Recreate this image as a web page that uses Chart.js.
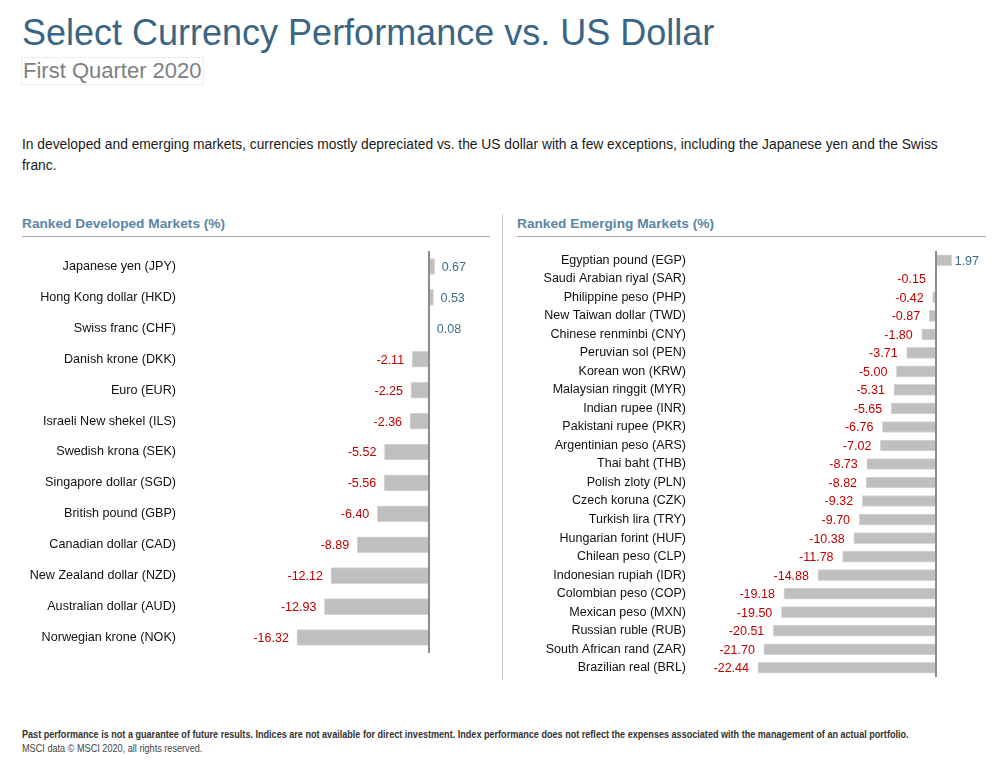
<!DOCTYPE html>
<html>
<head>
<meta charset="utf-8">
<script src="https://cdn.jsdelivr.net/npm/chart.js@4"></script>
<style>
  body { margin: 0; width: 1000px; height: 760px; background: #fff; font-family: "Liberation Sans", Arial, sans-serif; position: relative; overflow: hidden; }
  .abs { position: absolute; }
  #title { left: 22px; top: 12px; font-size: 36px; color: #3b6585; white-space: nowrap; }
  #subtitle { left: 21px; top: 57px; font-size: 22px; color: #808080; border: 1px solid #ececec; padding: 0 1px; line-height: 26px; }
  #desc { left: 22px; top: 134px; width: 960px; font-size: 13.8px; line-height: 21px; color: #1a1a1a; }
  .head { font-size: 13.7px; font-weight: bold; color: #5a86a5; top: 216px; }
  .rule { height: 1px; background: #a6a6a6; top: 236px; }
  #divider { left: 502px; top: 214px; width: 1px; height: 466px; background: #c8c8c8; }
  .foot { left: 22px; white-space: nowrap; transform-origin: left top; }
  #foot1 { top: 728px; font-size: 11px; font-weight: bold; color: #333; transform: scaleX(0.825); }
  #foot2 { top: 742px; font-size: 10.5px; color: #444; transform: scaleX(0.87); }
</style>
</head>
<body>
<div id="title" class="abs">Select Currency Performance vs. US Dollar</div>
<div id="subtitle" class="abs">First Quarter 2020</div>
<div id="desc" class="abs">In developed and emerging markets, currencies mostly depreciated vs. the US dollar with a few exceptions, including the Japanese yen and the Swiss<br>franc.</div>

<div class="abs head" style="left:22px">Ranked Developed Markets (%)</div>
<div class="abs rule" style="left:22px; width:468px"></div>
<div class="abs head" style="left:517px">Ranked Emerging Markets (%)</div>
<div class="abs rule" style="left:517px; width:469px"></div>
<div id="divider" class="abs"></div>

<div class="abs" style="left:0; top:251px; width:490px; height:402px"><canvas id="devChart"></canvas></div>
<div class="abs" style="left:500px; top:251px; width:490px; height:426px"><canvas id="emChart"></canvas></div>

<div id="foot1" class="abs foot">Past performance is not a guarantee of future results. Indices are not available for direct investment. Index performance does not reflect the expenses associated with the management of an actual portfolio.</div>
<div id="foot2" class="abs foot">MSCI data © MSCI 2020, all rights reserved.</div>

<script>
// --- Data ---
const devLabels = [
    'Japanese yen (JPY)', 'Hong Kong dollar (HKD)', 'Swiss franc (CHF)', 'Danish krone (DKK)',
    'Euro (EUR)', 'Israeli New shekel (ILS)', 'Swedish krona (SEK)', 'Singapore dollar (SGD)',
    'British pound (GBP)', 'Canadian dollar (CAD)', 'New Zealand dollar (NZD)',
    'Australian dollar (AUD)', 'Norwegian krone (NOK)'
];
const devValues = [0.67, 0.53, 0.08, -2.11, -2.25, -2.36, -5.52, -5.56, -6.40, -8.89, -12.12, -12.93, -16.32];

const emLabels = [
    'Egyptian pound (EGP)', 'Saudi Arabian riyal (SAR)', 'Philippine peso (PHP)', 'New Taiwan dollar (TWD)',
    'Chinese renminbi (CNY)', 'Peruvian sol (PEN)', 'Korean won (KRW)', 'Malaysian ringgit (MYR)',
    'Indian rupee (INR)', 'Pakistani rupee (PKR)', 'Argentinian peso (ARS)', 'Thai baht (THB)',
    'Polish zloty (PLN)', 'Czech koruna (CZK)', 'Turkish lira (TRY)', 'Hungarian forint (HUF)',
    'Chilean peso (CLP)', 'Indonesian rupiah (IDR)', 'Colombian peso (COP)', 'Mexican peso (MXN)',
    'Russian ruble (RUB)', 'South African rand (ZAR)', 'Brazilian real (BRL)'
];
const emValues = [1.97, -0.15, -0.42, -0.87, -1.80, -3.71, -5.00, -5.31, -5.65, -6.76, -7.02, -8.73,
    -8.82, -9.32, -9.70, -10.38, -11.78, -14.88, -19.18, -19.50, -20.51, -21.70, -22.44];

const POS_COLOR = '#3e6b8c';
const NEG_COLOR = '#c00000';
const FONT = '"Liberation Sans", Arial, sans-serif';

// zero line + value next to each bar end
const valueLabels = {
    id: 'valueLabels',
    afterDatasetsDraw(chart, args, opts) {
        const ctx = chart.ctx;
        const area = chart.chartArea;
        const zero = Math.round(chart.scales.x.getPixelForValue(0));
        ctx.save();
        ctx.strokeStyle = '#8c8c8c';
        ctx.lineWidth = 2;
        ctx.beginPath();
        ctx.moveTo(zero, area.top - 1);
        ctx.lineTo(zero, area.bottom + 1);
        ctx.stroke();

        const meta = chart.getDatasetMeta(0);
        const data = chart.data.datasets[0].data;
        ctx.font = opts.size + 'px ' + FONT;
        ctx.textBaseline = 'middle';
        meta.data.forEach((bar, i) => {
            const v = data[i];
            if (v < 0) {
                ctx.fillStyle = NEG_COLOR;
                ctx.textAlign = 'right';
                ctx.fillText(v.toFixed(2), bar.x - opts.negGap, bar.y + 1);
            } else {
                ctx.fillStyle = POS_COLOR;
                ctx.textAlign = 'left';
                ctx.fillText(v.toFixed(2), Math.max(bar.x, bar.base) + opts.posGap, bar.y + 1);
            }
        });
        ctx.restore();
    }
};

function makeChart(id, labels, values, cfg) {
    return new Chart(document.getElementById(id), {
        type: 'bar',
        data: {
            labels: labels,
            datasets: [{
                data: values,
                backgroundColor: '#bfbfbf',
                borderColor: '#d6d6d6',
                borderWidth: 1,
                barThickness: cfg.thickness
            }]
        },
        options: {
            indexAxis: 'y',
            responsive: true,
            maintainAspectRatio: false,
            animation: false,
            layout: { padding: 0 },
            plugins: {
                legend: { display: false },
                tooltip: { enabled: false },
                valueLabels: { size: cfg.valueSize, negGap: cfg.negGap, posGap: cfg.posGap }
            },
            scales: {
                x: {
                    display: false,
                    min: -30,
                    max: cfg.max
                },
                y: {
                    afterFit: (scale) => {
                        scale.width = cfg.axisWidth;
                        scale.paddingTop = 0;
                        scale.paddingBottom = 0;
                    },
                    ticks: {
                        color: '#111',
                        padding: cfg.labelPad,
                        font: { family: FONT, size: cfg.labelSize }
                    },
                    grid: { display: false, drawTicks: false },
                    border: { display: false }
                }
            }
        },
        plugins: [valueLabels]
    });
}

makeChart('devChart', devLabels, devValues, {
    max: 7.5, axisWidth: 186, labelPad: 10, labelSize: 12.6, valueSize: 12.5,
    thickness: 16, negGap: 8, posGap: 7
});
makeChart('emChart', emLabels, emValues, {
    max: 6.8, axisWidth: 198, labelPad: 12, labelSize: 12.5, valueSize: 12.5,
    thickness: 11, negGap: 9, posGap: 3
});
</script>
</body>
</html>
